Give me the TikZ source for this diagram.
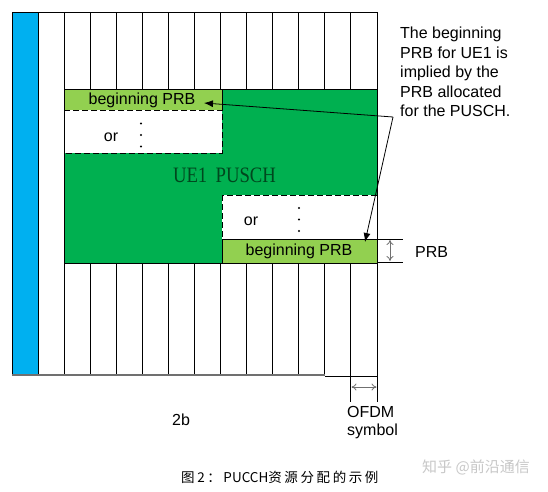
\documentclass[tikz,border=0pt]{standalone}
\usepackage{fontspec}
\setmainfont{Liberation Sans}
\newfontfamily\serifue{Liberation Serif}
\newfontfamily\cjkcap{Noto Sans CJK SC}
\newfontfamily\cjkwm{Noto Sans CJK SC}
\usetikzlibrary{arrows.meta}
\definecolor{cblue}{HTML}{00B0F0}
\definecolor{cgreen}{HTML}{00B050}
\definecolor{clgreen}{HTML}{92D050}
\definecolor{cdark}{HTML}{00471E}
\definecolor{cgray}{HTML}{707070}
\definecolor{cwm}{HTML}{C8C8C8}
\newcommand{\cs}{\hspace{2.6pt}}
\begin{document}
\begin{tikzpicture}[x=1pt,y=-1pt,
  lbl/.style={font=\fontsize{16}{19.5}\selectfont, inner sep=0pt},
  gridline/.style={line width=0.9pt, draw=black},
  dashbox/.style={fill=white, draw=black, dash pattern=on 6pt off 3pt, line width=1pt},
  dimarrow/.style={draw=cgray, line width=0.8pt, {To[length=5pt,width=7pt]}-{To[length=5pt,width=7pt]}},
  callout/.style={draw=black, line width=0.8pt, -{Latex[length=9pt,width=7pt]}},
  vdot/.style={fill=black}]
\useasboundingbox (0,0) rectangle (548,491);
\fill[white] (0,0) rectangle (548,491);
% blue column
\draw[gridline, fill=cblue] (12,12) rectangle (38,375);
% grid columns
\draw[gridline] (38,12) -- (38,375);
\foreach \i in {0,...,10}{
  \draw[gridline] ({64+\i*26.083},12) -- ({64+\i*26.083},375);
}
\draw[gridline] (350.9,12) -- (350.9,376);
\draw[gridline] (377,12) -- (377,376);
\draw[gridline] (12,12) -- (377,12);
\draw[draw=cgray, line width=1.3pt] (12,375) -- (325,375);
\draw[gridline] (325,376) -- (377,376);
% PUSCH region
\draw[gridline, fill=cgreen] (64,89) rectangle (377,263);
\draw[gridline, fill=clgreen] (64,89) rectangle (222,110);
\draw[dashbox] (64,110) rectangle (222,153);
\draw[gridline] (64,89) -- (64,263);
\draw[dashbox] (222,195) rectangle (377,239);
\draw[gridline, fill=clgreen] (222,239) rectangle (377,263);
% texts inside
\node[lbl] (bp1) at (142,100) {beginning PRB};
\node[lbl] (or1) at (111,137) {or};
\foreach \y in {123.5,135,146.5}{\fill[vdot] (141,\y) circle (1.1pt);}
\node[font=\serifue\fontsize{22}{22}\selectfont, text=cdark, inner sep=0pt] (ue) at (224.5,175) {\scalebox{0.85}[1]{UE1\hspace{0.45em}PUSCH}};
\node[lbl] (or2) at (251,221) {or};
\foreach \y in {208,219.5,231}{\fill[vdot] (299,\y) circle (1.1pt);}
\node[lbl] (bp2) at (299,251) {beginning PRB};
% PRB dimension
\coordinate (p1a) at (377,239);
\coordinate (p1b) at (403,239);
\coordinate (p2a) at (377,262);
\coordinate (p2b) at (403,262);
\draw[gridline] (p1a) -- (p1b);
\draw[gridline] (p2a) -- (p2b);
\coordinate (pd1) at (390,240);
\coordinate (pd2) at (390,261);
\draw[dimarrow] (pd1) -- (pd2);
\node[lbl, anchor=west] (prb) at (415,251.5) {PRB};
% OFDM symbol dimension
\coordinate (o1a) at (350.9,376);
\coordinate (o1b) at (350.9,402);
\coordinate (o2a) at (377,376);
\coordinate (o2b) at (377,402);
\draw[gridline] (o1a) -- (o1b);
\draw[gridline] (o2a) -- (o2b);
\coordinate (od1) at (351.5,387);
\coordinate (od2) at (376.5,387);
\draw[dimarrow] (od1) -- (od2);
\node[lbl, anchor=west] (ofdm) at (347,412) {OFDM};
\node[lbl, anchor=west] (sym) at (347,431) {symbol};
\node[lbl] (twob) at (181,420) {2b};
% annotation
\node[lbl, anchor=north west, align=left] (note) at (400,27) {The beginning\\PRB for UE1 is\\implied by the\\PRB allocated\\for the PUSCH.};
\coordinate (jn) at (393,117);
\coordinate (tip1) at (204,103);
\coordinate (tip2) at (365,242);
\draw[callout] (jn) -- (tip1);
\draw[callout] (jn) -- (tip2);
% caption and watermark
\node[font=\cjkcap\fontsize{13.5}{13.5}\selectfont, inner sep=0pt, anchor=west] (cap) at (181,477) {图\cs 2\cs ：\cs PUCCH资\cs 源\cs 分\cs 配\cs 的\cs 示\cs 例};
\node[font=\cjkwm\fontsize{15}{15}\selectfont, text=cwm, inner sep=0pt] (wm) at (476,467) {知乎 @前沿通信};
\end{tikzpicture}
\end{document}
